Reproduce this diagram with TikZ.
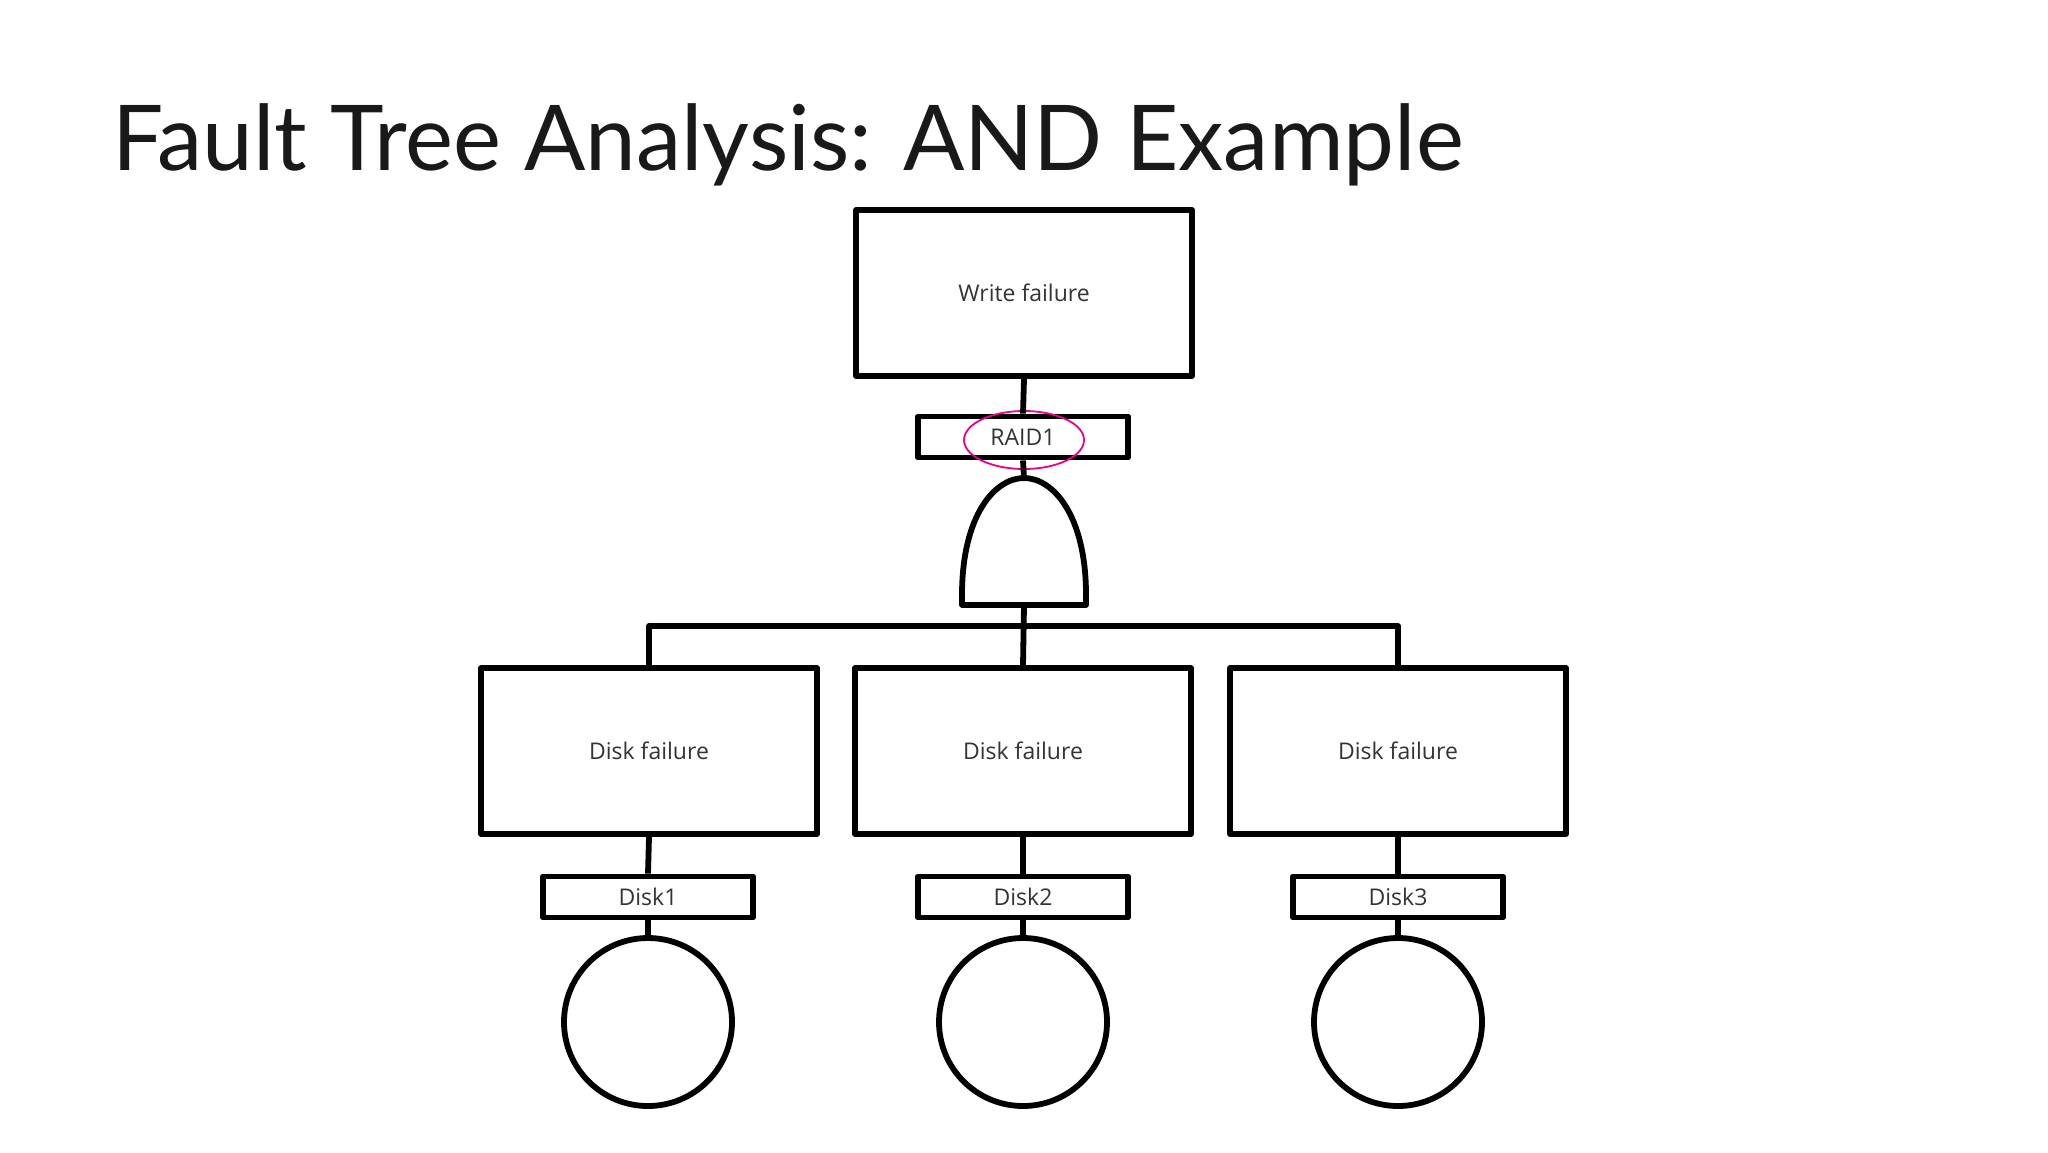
\documentclass[tikz,border=0pt]{standalone}
\usetikzlibrary{shapes.geometric}
\usepackage{fontspec}
\setmainfont{Open Sans}
\newfontfamily\titlefont{Lato}
\begin{document}
\begin{tikzpicture}[x=0.5pt,y=-0.5pt,
  lw/.style={line width=2.9pt,line join=round},
  big/.style={draw,lw,inner sep=0pt,minimum width=168pt,minimum height=83pt,font=\fontsize{11.5}{13}\selectfont,text=black!80},
  tag/.style={draw,lw,inner sep=0pt,minimum width=105pt,minimum height=20.5pt,font=\fontsize{11.5}{13}\selectfont,text=black!80},
  ev/.style={draw,lw,circle,inner sep=0pt,minimum size=84pt},
  con/.style={lw}]
\useasboundingbox (0,0) rectangle (2048,1152);
\node[anchor=base west,inner sep=0pt,font=\titlefont\fontsize{45.4}{50}\selectfont,text=black!90] (title) at (112,170) {Fault Tree Analysis: AND Example};
\node[big] (top) at (1024,293) {Write failure};
\node[tag] (raid) at (1023,437) {RAID1};
\node[draw=magenta,line width=0.9pt,ellipse,minimum width=60pt,minimum height=29pt,inner sep=0pt] (hl) at (1024,440) {};
\coordinate (gtop) at (1024,478);
\coordinate (gbot) at (1024,605);
\draw[lw,fill=white] (962,605) -- (962,595) .. controls (962,515) and (995,478) .. (gtop) .. controls (1053,478) and (1086,515) .. (1086,595) -- (1086,605) -- cycle;
\node[big] (d1) at (649,751) {Disk failure};
\node[big] (d2) at (1023,751) {Disk failure};
\node[big] (d3) at (1398,751) {Disk failure};
\node[tag] (k1) at (648,897) {Disk1};
\node[tag] (k2) at (1023,897) {Disk2};
\node[tag] (k3) at (1398,897) {Disk3};
\node[ev] (c1) at (648,1022) {};
\node[ev] (c2) at (1023,1022) {};
\node[ev] (c3) at (1398,1022) {};
\coordinate (bus) at (1024,626);
\draw[con] (top.south) -- (raid.north);
\draw[con] (raid.south) -- (gtop);
\draw[con] (gbot) -- (d2.north);
\draw[con] (d1.north) |- (bus) -| (d3.north);
\foreach \i in {1,2,3}{
  \draw[con] (d\i.south) -- (k\i.north);
  \draw[con] (k\i.south) -- (c\i.north);
}
\end{tikzpicture}
\end{document}
